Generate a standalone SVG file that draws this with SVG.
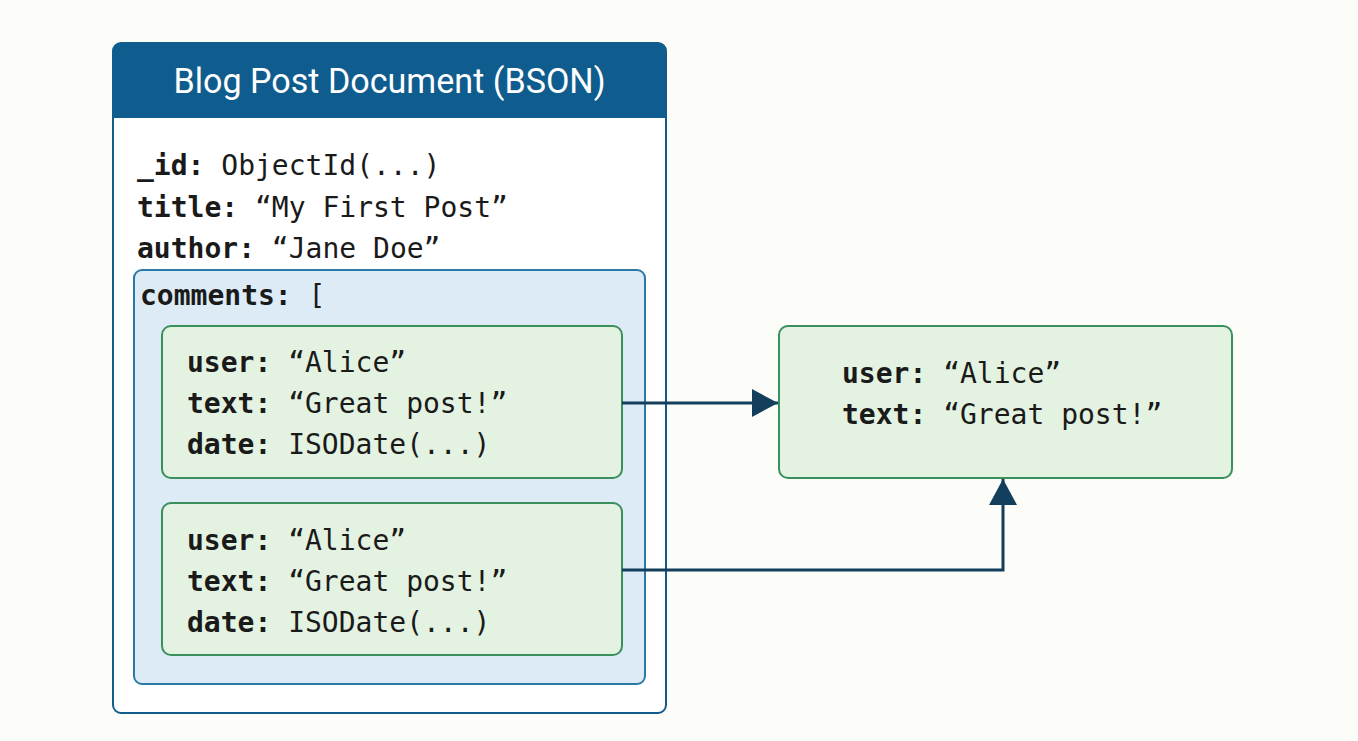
<svg xmlns="http://www.w3.org/2000/svg" width="1358" height="741" viewBox="0 0 1358 741">
<defs>
<style>
.mono{font-family:"DejaVu Sans Mono","Liberation Mono",monospace;font-size:28px;fill:#1a1a1a}
.k{font-weight:bold}
.green{fill:#e3f2e1;stroke:#3a8f5c;stroke-width:2}
.conn{fill:none;stroke:#143f5c;stroke-width:3}
</style>
<marker id="arr" viewBox="0 0 26 28" refX="26" refY="14" markerWidth="26" markerHeight="28" markerUnits="userSpaceOnUse" orient="auto">
<path d="M0,0 L26,14 L0,28 z" fill="#143f5c"/>
</marker>
</defs>
<rect width="1358" height="741" fill="#fcfcf9"/>
<g id="doc">
<rect x="113" y="43" width="553" height="670" rx="8" fill="#ffffff" stroke="#125b8c" stroke-width="2"/>
<path d="M113,118 V51 a8,8 0 0 1 8,-8 H658 a8,8 0 0 1 8,8 V118 Z" fill="#0f5c8e"/>
<text x="389.5" y="93" text-anchor="middle" font-family="Roboto,'Liberation Sans',sans-serif" font-size="35" textLength="432" lengthAdjust="spacingAndGlyphs" fill="#ffffff">Blog Post Document (BSON)</text>
<text class="mono" x="137" y="175"><tspan class="k">_id:</tspan> ObjectId(...)</text>
<text class="mono" x="137" y="217"><tspan class="k">title:</tspan> “My First Post”</text>
<text class="mono" x="137" y="258"><tspan class="k">author:</tspan> “Jane Doe”</text>
</g>
<g id="comments">
<rect x="134" y="270" width="511" height="414" rx="8" fill="#dcebf6" stroke="#2b7aa6" stroke-width="2"/>
<text class="mono" x="140" y="305"><tspan class="k">comments:</tspan> [</text>
</g>
<g id="comment1">
<rect class="green" x="162" y="326" width="460" height="152" rx="9"/>
<text class="mono" x="187" y="372"><tspan class="k">user:</tspan> “Alice”</text>
<text class="mono" x="187" y="413"><tspan class="k">text:</tspan> “Great post!”</text>
<text class="mono" x="187" y="454"><tspan class="k">date:</tspan> ISODate(...)</text>
</g>
<g id="comment2">
<rect class="green" x="162" y="503" width="460" height="152" rx="9"/>
<text class="mono" x="187" y="550"><tspan class="k">user:</tspan> “Alice”</text>
<text class="mono" x="187" y="591"><tspan class="k">text:</tspan> “Great post!”</text>
<text class="mono" x="187" y="632"><tspan class="k">date:</tspan> ISODate(...)</text>
</g>
<g id="result">
<rect class="green" x="779" y="326" width="453" height="152" rx="9"/>
<text class="mono" x="842" y="383"><tspan class="k">user:</tspan> “Alice”</text>
<text class="mono" x="842" y="424"><tspan class="k">text:</tspan> “Great post!”</text>
</g>
<g id="connectors">
<path class="conn" d="M622,403 H778" marker-end="url(#arr)"/>
<path class="conn" d="M622,570 H1003 V479" marker-end="url(#arr)"/>
</g>
</svg>
